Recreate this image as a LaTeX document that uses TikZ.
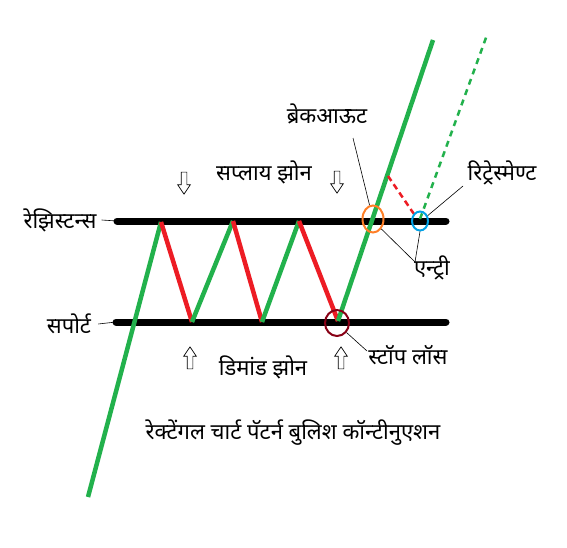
\documentclass[tikz,border=0pt]{standalone}
\usepackage{fontspec}
\newfontfamily\deva[Script=Devanagari]{Noto Sans}
\usetikzlibrary{shapes.arrows,shapes.geometric}
\definecolor{bullgreen}{HTML}{22B14C}
\definecolor{bearred}{HTML}{ED1C24}
\definecolor{brkorange}{HTML}{FF7F27}
\definecolor{entryblue}{HTML}{00A2E8}
\definecolor{stopred}{HTML}{880015}
\begin{document}
\begin{tikzpicture}[x=1pt,y=-1pt,
 level/.style={line width=7pt,line cap=round},
 up/.style={draw=bullgreen,line width=4.5pt},
 down/.style={draw=bearred,line width=4.5pt},
 lead/.style={line width=0.6pt},
 lbl/.style={font=\deva\fontsize{22}{26}\selectfont,inner sep=1pt},
 ring/.style={ellipse,draw=#1,line width=2pt,inner sep=0pt},
 hollow/.style={single arrow,draw,fill=white,line width=0.7pt,minimum height=22pt,
                minimum width=12pt,inner sep=2.5pt,single arrow head extend=3.5pt,
                single arrow tip angle=68}]
\useasboundingbox[fill=white] (0,0) rectangle (567,548);
% price path
\coordinate (b0) at (88,497);
\coordinate (p1) at (161,222);
\coordinate (t1) at (192,322);
\coordinate (p2) at (233,221);
\coordinate (t2) at (262,322);
\coordinate (p3) at (299,221);
\coordinate (t3) at (338,321);
\coordinate (top) at (433,40);
% levels
\coordinate (rL) at (117,221); \coordinate (rR) at (446,221);
\coordinate (sL) at (116,322); \coordinate (sR) at (446,322);
\draw[level] (rL)--(rR);
\draw[level] (sL)--(sR);
\draw[up] (b0)--(p1); \draw[down] (p1)--(t1);
\draw[up] (t1)--(p2); \draw[down] (p2)--(t2);
\draw[up] (t2)--(p3); \draw[down] (p3)--(t3);
\draw[up] (t3)--(top);
% retest
\coordinate (pb) at (388,176); \coordinate (pbend) at (416,217);
\coordinate (re) at (420,219); \coordinate (retop) at (487,35);
\draw[bearred,line width=2.5pt,dash pattern=on 6pt off 4pt] (pb)--(pbend);
\draw[bullgreen,line width=2.5pt,dash pattern=on 6pt off 5pt] (re)--(retop);
\node[ring=brkorange,minimum width=21pt,minimum height=27pt] (bo) at (373,219) {};
\node[ring=entryblue,minimum width=16pt,minimum height=19pt] (bl) at (420,221) {};
\node[ring=stopred,minimum width=24pt,minimum height=26pt] (st) at (337,323) {};
% labels
\node[lbl] (res) at (60,220) {रेझिस्टन्स};
\node[lbl] (sup) at (69,324) {सपोर्ट};
\node[lbl] (supply) at (264,172) {सप्लाय झोन};
\node[lbl] (demand) at (263,367) {डिमांड झोन};
\node[lbl] (brk) at (327,114) {ब्रेकआऊट};
\node[lbl] (ret) at (502,173) {रिट्रेस्मेण्ट};
\node[lbl] (entry) at (432,268) {एन्ट्री};
\node[lbl] (sl) at (408,355) {स्टॉप लॉस};
\node[lbl] (title) at (293,433) {रेक्टेंगल चार्ट पॅटर्न बुलिश कॉन्टीनुएशन};
% zone arrows
\node[hollow,rotate=-90] (a1) at (184,181) {};
\node[hollow,rotate=-90] (a2) at (337,180) {};
\node[hollow,rotate=90] (a3) at (190,360) {};
\node[hollow,rotate=90] (a4) at (341,360) {};
% leaders
\coordinate (brkfoot) at (353,138);
\coordinate (retfoot) at (463,186);
\coordinate (entrytop) at (415,262);
\coordinate (sltop) at (367,351);
\draw[lead] ([xshift=4pt]res.east)--(rL);
\draw[lead] ([xshift=6pt]sup.east)--(sL);
\draw[lead] (brkfoot)--(bo.104);
\draw[lead] (retfoot)--(bl.35);
\draw[lead] (bo.-50)--(entrytop);
\draw[lead] (bl.south)--(entrytop);
\draw[lead] (st.-45)--(sltop);
\end{tikzpicture}
\end{document}
